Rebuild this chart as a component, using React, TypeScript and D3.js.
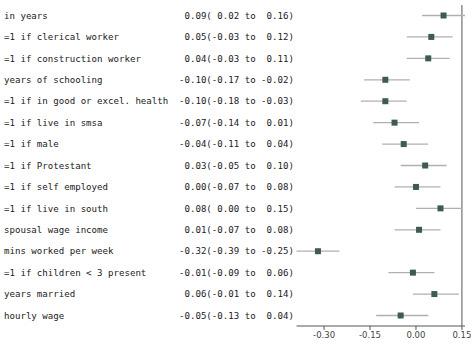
import React from "react";
import * as d3 from "d3";

const labels = [
  "in years",
  "=1 if clerical worker",
  "=1 if construction worker",
  "years of schooling",
  "=1 if in good or excel. health",
  "=1 if live in smsa",
  "=1 if male",
  "=1 if Protestant",
  "=1 if self employed",
  "=1 if live in south",
  "spousal wage income",
  "mins worked per week",
  "=1 if children < 3 present",
  "years married",
  "hourly wage",
];
const estimates = [0.09, 0.05, 0.04, -0.1, -0.1, -0.07, -0.04, 0.03, 0.0, 0.08, 0.01, -0.32, -0.01, 0.06, -0.05];
const lower = [0.02, -0.03, -0.03, -0.17, -0.18, -0.14, -0.11, -0.05, -0.07, 0.0, -0.07, -0.39, -0.09, -0.01, -0.13];
const upper = [0.16, 0.12, 0.11, -0.02, -0.03, 0.01, 0.04, 0.1, 0.08, 0.15, 0.08, -0.25, 0.06, 0.14, 0.04];
const ticks = [-0.3, -0.15, 0.0, 0.15];
const refLine = 0.15;

const W = 474;
const H = 347;

const fmt = (v: number) => {
  const s = (Math.abs(v) < 0.005 ? 0 : v).toFixed(2);
  return s.length < 5 ? " " + s : s;
};

export default function App() {
  const x = d3.scaleLinear().domain([-0.39, 0.16]).range([296.5, 465]);
  const y = d3.scalePoint<string>().domain(labels).range([15.5, 315.5]);
  const axisY = 326;
  const mono = "'DejaVu Sans Mono', monospace";
  return (
    <svg width={W} height={H} style={{ position: "absolute", left: 0, top: 0, background: "#fff" }}>
      <line x1={x(refLine)} x2={x(refLine)} y1={5} y2={axisY} stroke="#555" strokeWidth={1} />
      {labels.map((lab, i) => {
        const yy = y(lab)!;
        return (
          <g key={lab}>
            <text x={4} y={yy} dy="0.35em" fontFamily={mono} fontSize={9.1} fill="#1a1a1a" style={{ whiteSpace: "pre" }}>
              {lab}
            </text>
            <text x={179} y={yy} dy="0.35em" fontFamily={mono} fontSize={9.1} fill="#1a1a1a" style={{ whiteSpace: "pre" }}>
              {`${fmt(estimates[i])}(${fmt(lower[i])} to ${fmt(upper[i])})`}
            </text>
            <line x1={x(lower[i])} x2={x(upper[i])} y1={yy} y2={yy} stroke="#b0b0b0" strokeWidth={1.3} />
            <rect x={x(estimates[i]) - 3} y={yy - 3} width={6} height={6} fill="#3f5a50" />
          </g>
        );
      })}
      <line x1={x.range()[0]} x2={x.range()[1]} y1={axisY} y2={axisY} stroke="#555" strokeWidth={1} />
      {ticks.map((t) => (
        <g key={t}>
          <line x1={x(t)} x2={x(t)} y1={axisY} y2={axisY + 4} stroke="#555" />
          <text x={x(t)} y={axisY + 9} dy="0.35em" textAnchor="middle" fontFamily="'DejaVu Sans', sans-serif" fontSize={8.5} fill="#444">
            {t.toFixed(2)}
          </text>
        </g>
      ))}
    </svg>
  );
}
